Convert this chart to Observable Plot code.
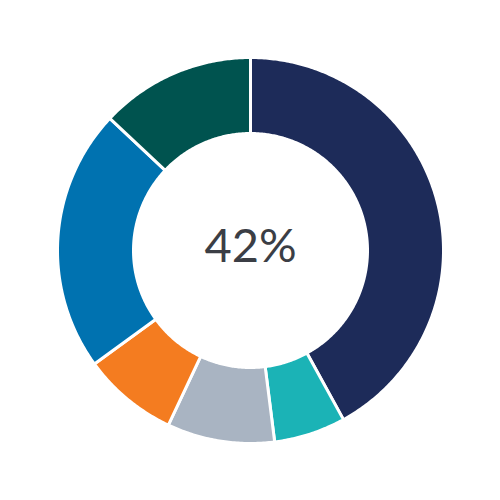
<!DOCTYPE html>
<html>
<head>
<meta charset="utf-8">
<script src="https://cdn.jsdelivr.net/npm/d3@7"></script>
<script src="https://cdn.jsdelivr.net/npm/@observablehq/plot@0.6"></script>
<style>
  html, body { margin: 0; padding: 0; background: #fff; }
  #chart { width: 500px; height: 500px; }
</style>
</head>
<body>
<div id="chart"></div>
<script>
const categories = ["A", "B", "C", "D", "E", "F"];
const values = [42, 6, 9, 8, 22, 13];
const colors = ["#1d2b59", "#1bb3b6", "#a9b4c2", "#f47c20", "#0072b0", "#00534f"];
const centerLabel = "42%";

const outerR = 193, innerR = 117;
const pie = d3.pie().sort(null).value(d => d.value);
const arcs = pie(categories.map((c, i) => ({category: c, value: values[i]})));

function ring(a0, a1) {
  const n = Math.max(8, Math.ceil((a1 - a0) / 0.01));
  const pts = [];
  for (let k = 0; k <= n; k++) {
    const a = a0 + (a1 - a0) * k / n;
    pts.push([outerR * Math.sin(a), -outerR * Math.cos(a)]);
  }
  for (let k = n; k >= 0; k--) {
    const a = a0 + (a1 - a0) * k / n;
    pts.push([innerR * Math.sin(a), -innerR * Math.cos(a)]);
  }
  pts.push(pts[0]);
  return pts;
}

const features = arcs.map(a => ({
  type: "Feature",
  properties: {category: a.data.category},
  geometry: {type: "Polygon", coordinates: [ring(a.startAngle, a.endAngle)]}
}));

const frame = {type: "MultiPoint", coordinates: [[-250, -250], [250, 250]]};

const chart = Plot.plot({
  width: 500,
  height: 500,
  margin: 0,
  projection: {type: "identity", domain: frame},
  color: {domain: categories, range: colors},
  marks: [
    Plot.geo(features, {fill: d => d.properties.category, stroke: "white", strokeWidth: 3}),
    Plot.text([centerLabel], {
      frameAnchor: "middle", dy: -4, text: d => d,
      fontSize: 47, fill: "#3b3e45", fontFamily: "Lato, 'Open Sans', sans-serif",
      textAnchor: "middle", lineAnchor: "middle"
    })
  ]
});
document.getElementById("chart").appendChild(chart);
</script>
</body>
</html>
